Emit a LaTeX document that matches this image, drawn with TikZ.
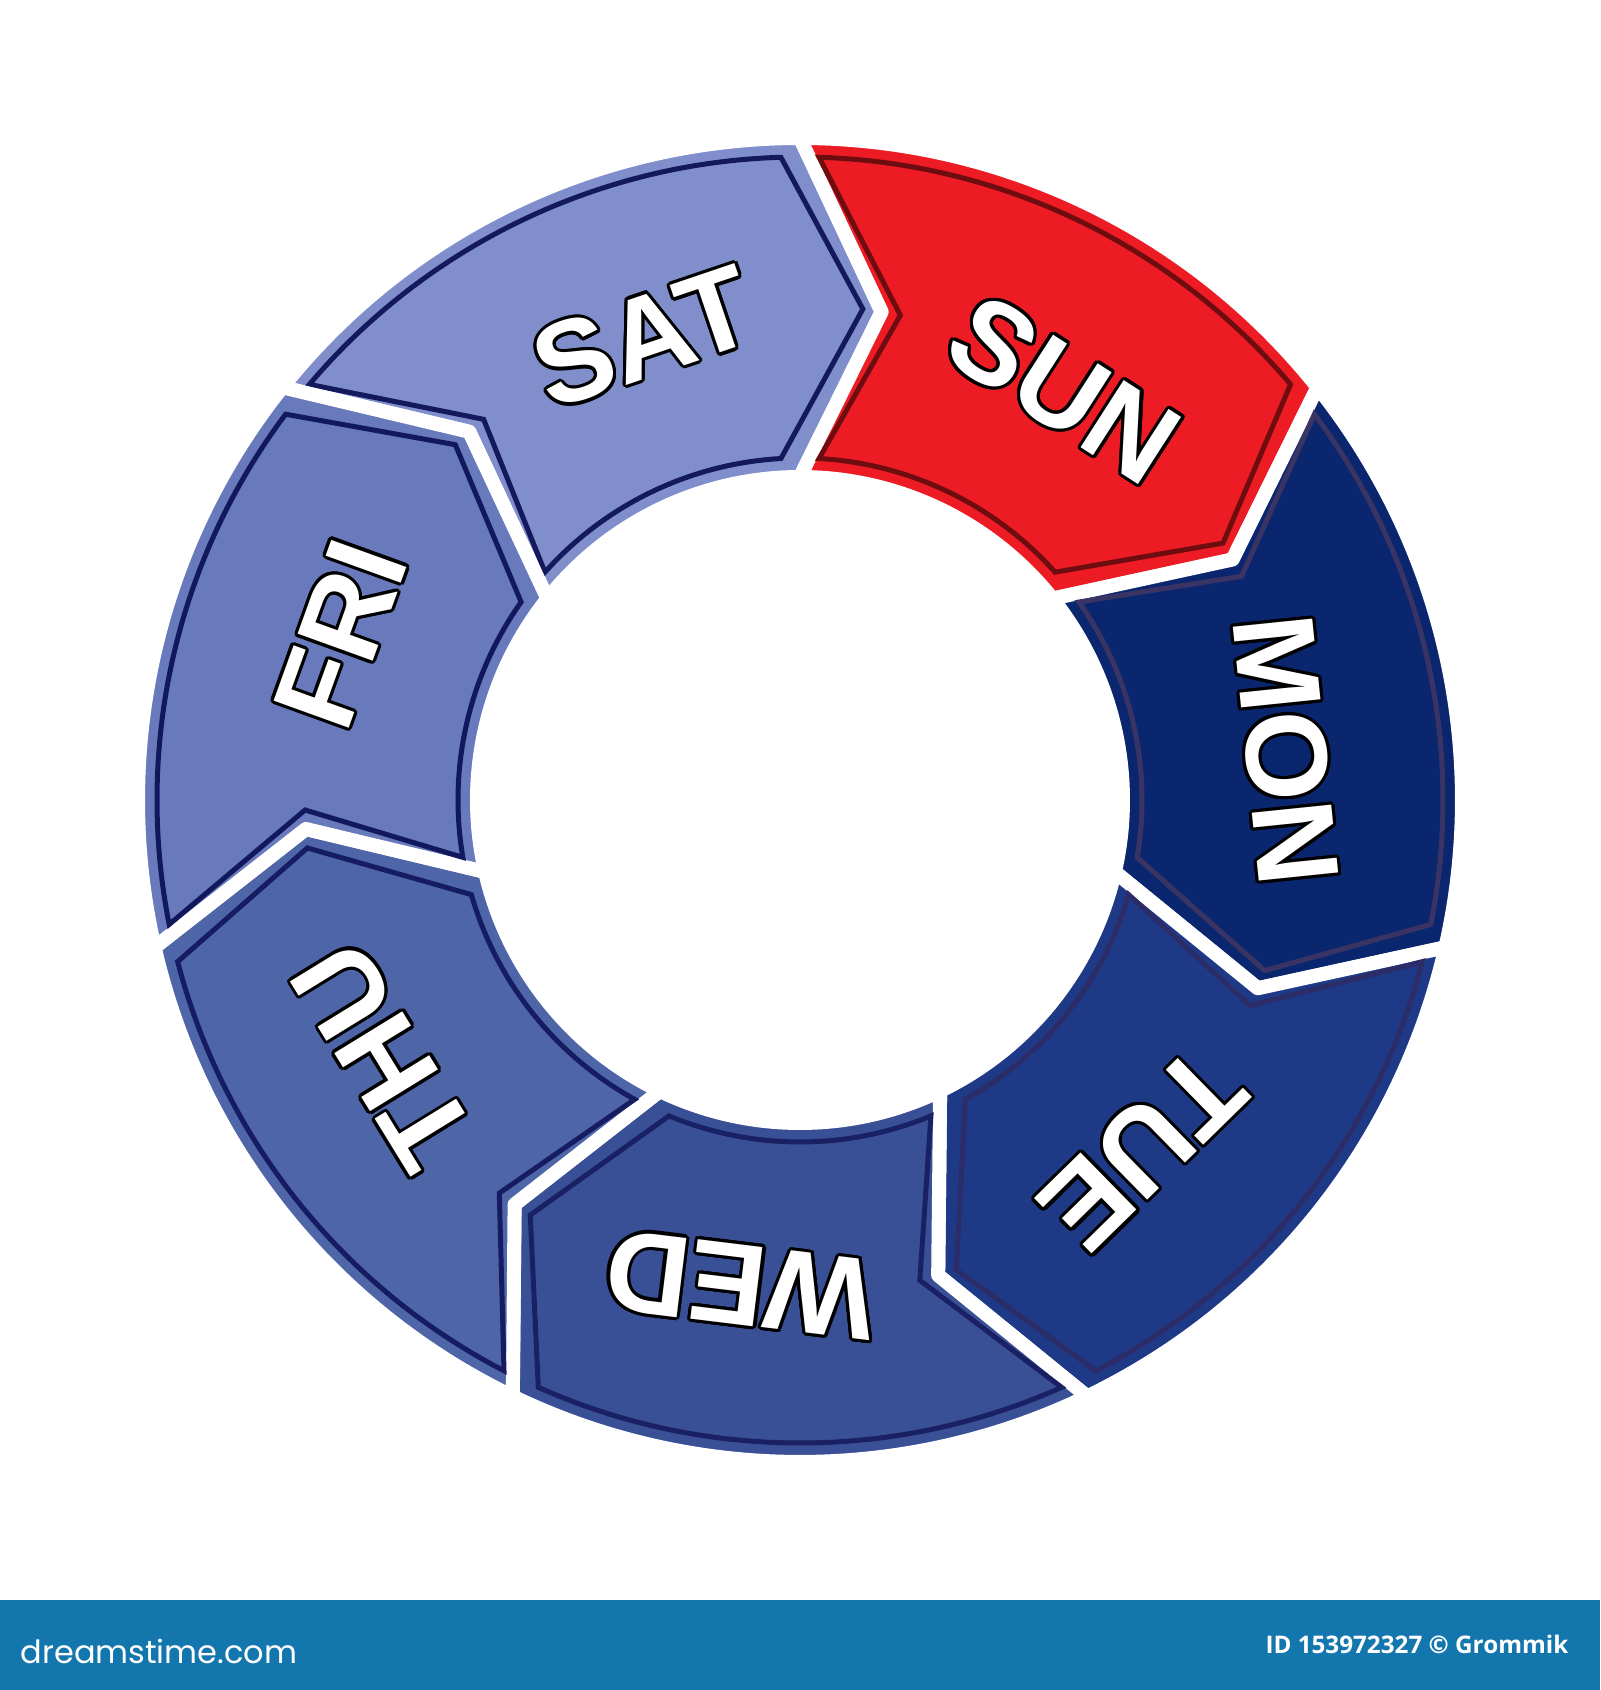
\documentclass[tikz,border=0pt]{standalone}
\usepackage{xcolor}
\usepackage{fontspec}
\usepackage{contour}
\usepackage{tikz}

\setmainfont{Liberation Sans}
\newfontfamily\sitefont{Poppins}
\newfontfamily\creditfont{Open Sans}
\contourlength{0.9pt}

\definecolor{satfill}{RGB}{128,143,204}
\definecolor{satline}{RGB}{20,24,92}
\definecolor{sunfill}{RGB}{237,28,36}
\definecolor{sunline}{RGB}{110,12,16}
\definecolor{monfill}{RGB}{10,38,110}
\definecolor{monline}{RGB}{58,52,100}
\definecolor{tuefill}{RGB}{30,58,135}
\definecolor{tueline}{RGB}{44,44,104}
\definecolor{wedfill}{RGB}{58,80,150}
\definecolor{wedline}{RGB}{26,32,100}
\definecolor{thufill}{RGB}{78,101,168}
\definecolor{thuline}{RGB}{22,28,98}
\definecolor{frifill}{RGB}{104,122,188}
\definecolor{friline}{RGB}{18,24,92}
\definecolor{barblue}{RGB}{19,119,174}

% #1 angle de depart, #2 remplissage, #3 contour, #4 nom, #5 texte
\newcommand{\daysegment}[5]{%
    \pgfmathsetmacro{\segend}{#1-360/7}
    \pgfmathsetmacro{\labelangle}{#1-360/14-7}
    \filldraw[segment, fill=#2] (#1:662) arc[start angle=#1, end angle=\segend, radius=662]
        -- (\segend-9.5:495) -- (\segend:323) arc[start angle=\segend, end angle=#1, radius=323]
        -- (#1-9.5:495) -- cycle;
    \draw[outline, draw=#3] (#1-1.7:643) arc[start angle=#1-1.7, end angle=\segend+1.7, radius=643]
        -- (\segend-7.3:495) -- (\segend+3.2:342) arc[start angle=\segend+3.2, end angle=#1-3.2, radius=342]
        -- (#1-11.7:495) -- cycle;
    \node[daylabel, rotate=\labelangle-90] (#4) at (\labelangle:487) {\contour{black}{#5}};
}

\begin{document}
\begin{tikzpicture}[
        x=0.1mm, y=0.1mm,
        % Styles des segments
        segment/.style={draw=white, line width=1.4mm, line join=round},
        outline/.style={line width=0.5mm},
        daylabel/.style={text=white, inner sep=0, font=\fontsize{33}{33}\selectfont\bfseries},
        % Bandeau du bas
        bartext/.style={text=white, inner sep=0}
    ]
    \useasboundingbox (-800,-890) rectangle (800,800);

    % Anneau des jours (sens horaire)
    \daysegment{141.43}{satfill}{satline}{sat}{SAT}
    \daysegment{90}{sunfill}{sunline}{sun}{SUN}
    \daysegment{38.57}{monfill}{monline}{mon}{MON}
    \daysegment{-12.86}{tuefill}{tueline}{tue}{TUE}
    \daysegment{-64.29}{wedfill}{wedline}{wed}{WED}
    \daysegment{-115.71}{thufill}{thuline}{thu}{THU}
    \daysegment{-167.14}{frifill}{friline}{fri}{FRI}

    % Bandeau du bas
    \fill[barblue] (-800,-890) rectangle (800,-800);
    \node[bartext, anchor=base west, font=\sitefont\fontsize{9.1}{10}\selectfont] (site) at (-780,-863) {dreamstime.com};
    \node[bartext, anchor=base east, font=\creditfont\bfseries\fontsize{6.9}{8}\selectfont] (credit) at (769,-853) {ID 153972327 © Grommik};

\end{tikzpicture}
\end{document}
